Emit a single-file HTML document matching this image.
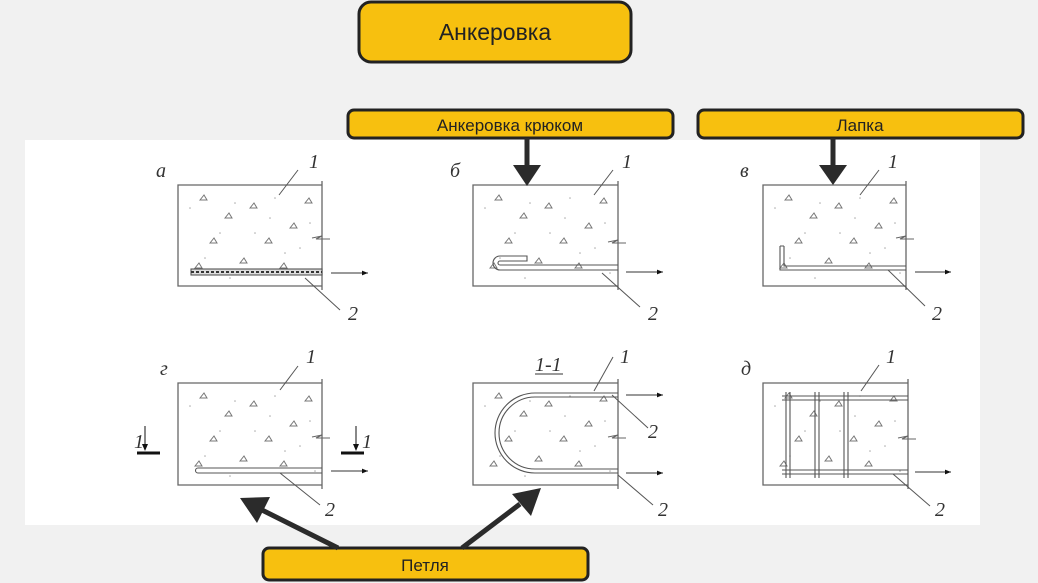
<!DOCTYPE html>
<html><head><meta charset="utf-8"><style>
html,body{margin:0;padding:0;background:#f1f1f1;}
svg{display:block;}
text{font-family:"Liberation Sans","DejaVu Sans",sans-serif;}
.it text{font-family:"Liberation Serif",serif;font-style:italic;font-size:20px;fill:#333;}
</style></head><body>
<svg width="1038" height="583" viewBox="0 0 1038 583" xmlns="http://www.w3.org/2000/svg">
<defs>
<marker id="sa" viewBox="0 0 10 10" refX="10" refY="5" markerWidth="12" markerHeight="6" orient="auto" markerUnits="userSpaceOnUse"><path d="M0,1 L10,5 L0,9 z" fill="#111"/></marker>
<g id="spk" fill="none" stroke="#777" stroke-width="1">
<path d="M20,12 l4,-5 l3,5z M70,20 l4,-5 l3,5z M110,40 l4,-5 l3,5z M30,55 l4,-5 l3,5z M60,75 l4,-5 l3,5z M100,80 l4,-5 l3,5z M15,80 l4,-5 l3,5z M125,15 l4,-5 l3,5z M45,30 l4,-5 l3,5z M85,55 l4,-5 l3,5z"/>
<g fill="#aaa" stroke="none"><circle cx="10" cy="20" r="0.8"/><circle cx="40" cy="45" r="0.8"/><circle cx="55" cy="15" r="0.8"/><circle cx="90" cy="30" r="0.8"/><circle cx="120" cy="60" r="0.8"/><circle cx="75" cy="45" r="0.8"/><circle cx="25" cy="70" r="0.8"/><circle cx="105" cy="65" r="0.8"/><circle cx="135" cy="85" r="0.8"/><circle cx="50" cy="90" r="0.8"/><circle cx="95" cy="10" r="0.8"/><circle cx="130" cy="35" r="0.8"/></g>
</g>
</defs>
<rect x="25" y="140" width="955" height="385" fill="#fff"/>

<g stroke="#666" stroke-width="1.3" fill="none">
<path d="M322,185 H178 V286 H322 M322,181 V290"/>
<path d="M618,185 H473 V286 H618 M618,181 V290"/>
<path d="M906,185 H763 V286 H906 M906,181 V290"/>
<path d="M322,383 H178 V485 H322 M322,379 V489"/>
<path d="M618,383 H473 V485 H618 M618,379 V489"/>
<path d="M908,383 H763 V485 H908 M908,379 V489"/>
</g>
<use href="#spk" x="180" y="188"/><use href="#spk" x="475" y="188"/><use href="#spk" x="765" y="188"/>
<use href="#spk" x="180" y="386"/><use href="#spk" x="475" y="386"/><use href="#spk" x="765" y="386"/>

<g stroke="#666" stroke-width="1" fill="none">
<path d="M312,238 l10,-2 l-6,3 l14,0"/><path d="M608,242 l10,-2 l-6,3 l14,0"/><path d="M896,238 l10,-2 l-6,3 l14,0"/>
<path d="M312,437 l10,-2 l-6,3 l14,0"/><path d="M608,437 l10,-2 l-6,3 l14,0"/><path d="M898,438 l10,-2 l-6,3 l14,0"/>
</g>

<g stroke="#555" stroke-width="1.1" fill="none">
<rect x="191" y="269" width="131" height="6" fill="#ddd"/>
<path d="M191,272 h131" stroke-dasharray="3,2" stroke="#333" stroke-width="2"/>
<path d="M618,270 H500 A7,7 0 0 1 500,256 H527 V261 H500 A2,2 0 0 0 500,265 H618"/>
<path d="M780,246 V270 H906 M784,246 V266 H906 M780,246 H784"/>
<path d="M198,468 H322 M198,473 H322 M198,468 A2.5,2.5 0 0 0 198,473"/>
<path d="M618,393 H535 A40,40 0 0 0 535,473 H618 M618,397 H535 A36,36 0 0 0 535,469 H618"/>
<path d="M782,396 H908 M782,400 H908 M782,470 H908 M782,474 H908"/>
<path d="M786,392 V478 M790,392 V478 M815,392 V478 M819,392 V478 M844,392 V478 M848,392 V478"/>
</g>

<g stroke="#333" stroke-width="1" marker-end="url(#sa)">
<line x1="331" y1="273" x2="368" y2="273"/><line x1="626" y1="272" x2="663" y2="272"/><line x1="915" y1="272" x2="951" y2="272"/>
<line x1="331" y1="471" x2="368" y2="471"/><line x1="626" y1="395" x2="663" y2="395"/><line x1="626" y1="473" x2="663" y2="473"/><line x1="915" y1="472" x2="951" y2="472"/>
</g>

<g stroke="#555" stroke-width="1">
<line x1="298" y1="170" x2="279" y2="195"/><line x1="305" y1="278" x2="340" y2="310"/>
<line x1="613" y1="170" x2="594" y2="195"/><line x1="602" y1="273" x2="640" y2="307"/>
<line x1="879" y1="170" x2="860" y2="195"/><line x1="888" y1="270" x2="925" y2="306"/>
<line x1="298" y1="366" x2="280" y2="390"/><line x1="280" y1="473" x2="320" y2="505"/>
<line x1="613" y1="357" x2="594" y2="391"/><line x1="612" y1="395" x2="648" y2="428"/><line x1="618" y1="475" x2="653" y2="505"/>
<line x1="879" y1="365" x2="861" y2="391"/><line x1="893" y1="474" x2="930" y2="506"/>
</g>

<g stroke="#111" fill="#111">
<line x1="145" y1="426" x2="145" y2="446" stroke-width="1"/><line x1="137" y1="453" x2="160" y2="453" stroke-width="3"/>
<line x1="356" y1="426" x2="356" y2="446" stroke-width="1"/><line x1="341" y1="453" x2="364" y2="453" stroke-width="3"/>
<path d="M142,444 L148,444 L145,451z M353,444 L359,444 L356,451z" stroke="none"/>
</g>

<g class="it">
<text x="156" y="177">а</text><text x="309" y="168">1</text><text x="348" y="320">2</text>
<text x="450" y="177">б</text><text x="622" y="168">1</text><text x="648" y="320">2</text>
<text x="740" y="177">в</text><text x="888" y="168">1</text><text x="932" y="320">2</text>
<text x="160" y="375">г</text><text x="306" y="363">1</text><text x="325" y="516">2</text>
<text x="134" y="448">1</text><text x="362" y="448">1</text>
<text x="535" y="371">1-1</text><text x="620" y="363">1</text><text x="648" y="438">2</text><text x="658" y="516">2</text>
<text x="741" y="375">д</text><text x="886" y="363">1</text><text x="935" y="516">2</text>
</g>
<line x1="535" y1="374" x2="563" y2="374" stroke="#333" stroke-width="1"/>

<g fill="#f7c00f" stroke="#222" stroke-width="3">
<rect x="359" y="2" width="272" height="60" rx="12"/>
<rect x="348" y="110" width="325" height="28" rx="6"/>
<rect x="698" y="110" width="325" height="28" rx="6"/>
<rect x="263" y="548" width="325" height="32" rx="6"/>
</g>
<g fill="#222" text-anchor="middle">
<text x="495" y="40" font-size="23">Анкеровка</text>
<text x="510" y="131" font-size="17">Анкеровка крюком</text>
<text x="860" y="131" font-size="17">Лапка</text>
<text x="425" y="571" font-size="17">Петля</text>
</g>

<g stroke="#2b2b2b" stroke-width="5" fill="#2b2b2b">
<line x1="527" y1="138" x2="527" y2="168"/><path d="M513,165 L541,165 L527,186z" stroke="none"/>
<line x1="833" y1="138" x2="833" y2="168"/><path d="M819,165 L847,165 L833,185z" stroke="none"/>
<line x1="338" y1="548" x2="262" y2="510"/><path d="M240,498 L270,497 L257,523z" stroke="none"/>
<line x1="462" y1="548" x2="520" y2="504"/><path d="M541,488 L531,516 L512,494z" stroke="none"/>
</g>
</svg>
</body></html>
